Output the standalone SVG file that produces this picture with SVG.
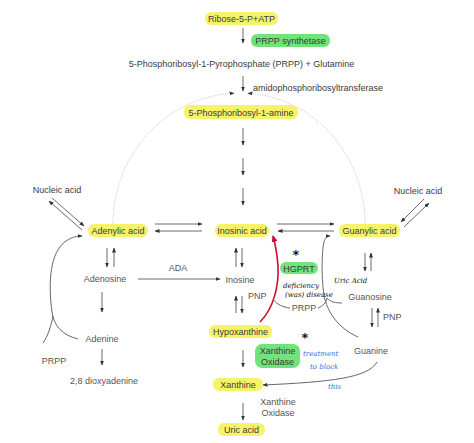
<svg xmlns="http://www.w3.org/2000/svg" width="474" height="443" viewBox="0 0 474 443">
<defs>
<marker id="ah" markerWidth="5" markerHeight="4" refX="4.5" refY="2" orient="auto" markerUnits="userSpaceOnUse">
<path d="M0,0 L5,2 L0,4 z" fill="#333"/>
</marker>
<marker id="ahr" markerWidth="7" markerHeight="6" refX="6" refY="3" orient="auto" markerUnits="userSpaceOnUse">
<path d="M0,0 L7,3 L0,6 z" fill="#c8102e"/>
</marker>
<style>
text{font-family:"Liberation Sans",Arial,sans-serif;font-size:9px;fill:#3a3a3a}
.c{text-anchor:middle}
.g{fill:#555555}
.hy{fill:#f6f36a}
.hg{fill:#72e27a}
.ln{fill:none;stroke:#444;stroke-width:0.8}
.ar{fill:none;stroke:#444;stroke-width:0.8;marker-end:url(#ah)}
.cv{fill:none;stroke:#666;stroke-width:1}
.dot{fill:none;stroke:#aaa;stroke-width:0.8;stroke-dasharray:1 1.5}
.hw{font-family:"DejaVu Serif",serif;font-style:italic;font-size:7px;fill:#111}
.hb{font-family:"DejaVu Serif",serif;font-style:italic;font-size:7px;fill:#2f6fd8}
.st{font-family:"DejaVu Sans",sans-serif;font-size:13px;font-weight:bold;fill:#111;text-anchor:middle}
</style>
</defs>
<rect width="474" height="443" fill="#fff"/>

<g id="connectors">
<line class="ar" x1="243" y1="28" x2="243" y2="43"/>
<line class="ar" x1="243" y1="76" x2="243" y2="91"/>
<path class="dot" d="M113,224 A127 131 0 0 1 234,93.2" marker-end="url(#ah)"/>
<path class="dot" d="M365,224 A125 131 0 0 0 248,93.2" marker-end="url(#ah)"/>
<line class="ar" x1="243" y1="128" x2="243" y2="145"/>
<line class="ar" x1="243" y1="158" x2="243" y2="175"/>
<line class="ar" x1="243" y1="188" x2="243" y2="205"/>
<line class="ar" x1="52" y1="198" x2="84" y2="226"/>
<line class="ar" x1="82" y1="230" x2="49" y2="201"/>
<line class="ar" x1="424" y1="199" x2="401" y2="222"/>
<line class="ar" x1="404" y1="227" x2="429" y2="203"/>
<line class="ar" x1="155" y1="224" x2="202" y2="224"/>
<line class="ar" x1="202" y1="231" x2="155" y2="231"/>
<line class="ar" x1="277" y1="224" x2="334" y2="224"/>
<line class="ar" x1="334" y1="231" x2="278" y2="231"/>
<line class="ar" x1="107" y1="248" x2="107" y2="267"/>
<line class="ar" x1="114" y1="267" x2="114" y2="248"/>
<line class="ar" x1="138" y1="279" x2="220" y2="279"/>
<line class="ar" x1="102" y1="292" x2="102" y2="312"/>
<line class="ar" x1="102" y1="349" x2="102" y2="365"/>
<path class="cv" d="M78,339 C62,335 54,326 52,312 C48,282 50,252 66,241 C72,237 77,236 82,236" marker-end="url(#ah)"/>
<path class="cv" d="M43,343 C48,336 51,326 53,316"/>
<line class="ar" x1="236" y1="267" x2="236" y2="248"/>
<line class="ar" x1="242" y1="248" x2="242" y2="267"/>
<line class="ar" x1="236" y1="313" x2="236" y2="296"/>
<line class="ar" x1="242" y1="296" x2="242" y2="313"/>
<line class="ar" x1="243" y1="350" x2="243" y2="367"/>
<line class="ar" x1="243" y1="403" x2="243" y2="420"/>
<path d="M260,322 C274,308 279,285 278,266 C277,252 275,243 273,236" fill="none" stroke="#c8102e" stroke-width="1.6" marker-end="url(#ahr)"/>
<path class="cv" d="M290,308 C283,307 277,305 273,299"/>
<path class="cv" d="M358,337 C338,328 327,312 324,295 C321,275 322,250 324,242 C325,238 327,236 330,236" marker-end="url(#ah)"/>
<path class="cv" d="M318,308 C323,306 326,303 327,298"/>
<path class="cv" d="M327,298 C330,302 336,303 342,303"/>
<line class="ar" x1="365" y1="253" x2="365" y2="271"/>
<line class="ar" x1="371" y1="271" x2="371" y2="253"/>
<line class="ar" x1="372" y1="308" x2="372" y2="327"/>
<line class="ar" x1="378" y1="327" x2="378" y2="308"/>
<path class="cv" d="M377,362 C368,378 330,382 263,385" marker-end="url(#ah)"/>
</g>

<g id="ribose"><rect class="hy" x="205" y="12" width="73" height="13" rx="6"/><text class="c" x="241.5" y="21.5">Ribose-5-P+ATP</text></g>
<g id="prpp-synthetase"><rect class="hg" x="251" y="34" width="79" height="13" rx="6"/><text class="c" x="290.5" y="43.5">PRPP synthetase</text></g>
<g id="prpp"><text class="c" x="241.5" y="67">5-Phosphoribosyl-1-Pyrophosphate (PRPP) + Glutamine</text></g>
<g id="amido"><text x="253" y="91">amidophosphoribosyltransferase</text></g>
<g id="pra"><rect class="hy" x="184" y="105" width="114" height="14" rx="6"/><text class="c" x="241" y="115.5">5-Phosphoribosyl-1-amine</text></g>

<g id="nucleic-left"><text class="c" x="57" y="193">Nucleic acid</text></g>
<g id="nucleic-right"><text class="c" x="418" y="194">Nucleic acid</text></g>
<g id="adenylic"><rect class="hy" x="88" y="224" width="60" height="13" rx="6"/><text class="c" x="118" y="233.5">Adenylic acid</text></g>
<g id="inosinic"><rect class="hy" x="215" y="224" width="54" height="13" rx="6"/><text class="c" x="242" y="233.5">Inosinic acid</text></g>
<g id="guanylic"><rect class="hy" x="339" y="224" width="61" height="13" rx="6"/><text class="c" x="369.5" y="233.5">Guanylic acid</text></g>

<g id="adenosine"><text class="c g" x="105" y="282">Adenosine</text></g>
<g id="ada"><text class="c g" x="178" y="271">ADA</text></g>
<g id="inosine"><text class="c g" x="240" y="283">Inosine</text></g>
<g id="pnp1"><text class="g" x="248" y="299">PNP</text></g>
<g id="hgprt"><rect class="hg" x="280" y="262" width="38" height="12" rx="6"/><text class="c" x="299" y="271.5">HGPRT</text></g>
<g id="prpp-mid"><text class="c g" x="304" y="311">PRPP</text></g>
<g id="guanosine"><text class="c g" x="370" y="300">Guanosine</text></g>
<g id="pnp2"><text class="g" x="383" y="320">PNP</text></g>
<g id="adenine"><text class="c g" x="102" y="342">Adenine</text></g>
<g id="prpp-left"><text class="c g" x="54" y="364">PRPP</text></g>
<g id="dioxy"><text class="c g" x="104" y="384">2,8 dioxyadenine</text></g>
<g id="hypoxanthine"><rect class="hy" x="209" y="325" width="63" height="13" rx="6"/><text class="c" x="240.5" y="334.5">Hypoxanthine</text></g>
<g id="xo-green"><rect class="hg" x="255" y="344" width="45" height="24" rx="7"/><text class="c" x="277.5" y="354">Xanthine</text><text class="c" x="277.5" y="365">Oxidase</text></g>
<g id="guanine"><text class="c g" x="371" y="354">Guanine</text></g>
<g id="xanthine"><rect class="hy" x="213" y="378" width="50" height="13" rx="6"/><text class="c" x="238" y="388">Xanthine</text></g>
<g id="xo-gray"><text class="c g" x="278" y="405">Xanthine</text><text class="c g" x="278" y="416">Oxidase</text></g>
<g id="uric"><rect class="hy" x="218" y="423" width="47" height="13" rx="6"/><text class="c" x="241.5" y="433">Uric acid</text></g>

<g id="notes">
<text class="st" x="296" y="259">*</text>
<text class="st" x="305" y="342">*</text>
<text class="hw" x="283" y="288">deficiency</text>
<text class="hw" x="285" y="297">(was) disease</text>
<text class="hw" x="334" y="283">Uric Acid</text>
<text class="hb" x="303" y="356">treatment</text>
<text class="hb" x="310" y="369">to block</text>
<text class="hb" x="328" y="389">this</text>
</g>
</svg>
